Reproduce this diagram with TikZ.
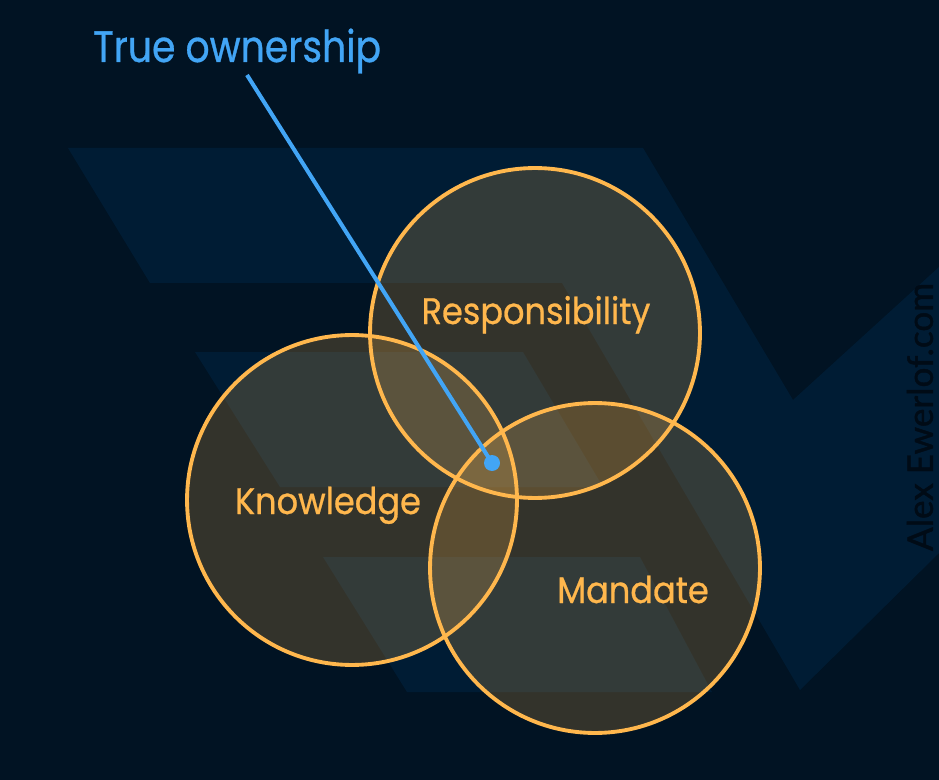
\documentclass[tikz,border=0pt]{standalone}
\usepackage{fontspec}
\setmainfont{Poppins}[FakeStretch=0.91, FakeBold=0.7]
\newfontfamily\titlefont{Poppins}[FakeStretch=0.86, FakeBold=0.7]
\newfontfamily\markfont{Lato}[FakeBold=1.2]
\definecolor{bgnavy}{RGB}{1,19,35}
\definecolor{logonavy}{RGB}{0,28,52}
\definecolor{ringorange}{RGB}{255,183,77}
\definecolor{ownblue}{RGB}{66,165,245}
\definecolor{markgray}{RGB}{0,11,22}
\begin{document}
\begin{tikzpicture}[x=0.02cm, y=-0.02cm]
\tikzstyle{ring}=[circle, minimum size=6.6cm, inner sep=0, draw=ringorange, line width=2.2pt, fill=ringorange, fill opacity=.2]
\tikzstyle{tag}=[text=ringorange, anchor=base, inner sep=0, font=\fontsize{21}{25}\selectfont]
\tikzstyle{band}=[fill=logonavy, draw=none]
\useasboundingbox[fill=bgnavy](0,0) rectangle (939,780);
% faint logo behind
\fill[band](68,148)--(643,148)--(793,400)--(939,267)--(939,553)--(800,690)--(562,283)--(150,283)--cycle;
\fill[band](195,352)--(523,352)--(603,487)--(280,487)--cycle;
\fill[band](323,557)--(640,557)--(712,692)--(407,692)--cycle;
\node[rotate=90, text=markgray, inner sep=0, font=\markfont\fontsize{20}{24}\selectfont] (mark) at (920,417) {Alex Ewerlof.com};
% circles
\node[ring] (resp) at (535,333) {};
\node[ring] (know) at (352,500) {};
\node[ring] (mand) at (595,568) {};
\node[tag] (resptag) at (536,324) {Responsibility};
\node[tag] (knowtag) at (328,514) {Knowledge};
\node[tag] (mandtag) at (633,603) {Mandate};
% pointer
\node[text=ownblue, anchor=base west, inner sep=0, font=\titlefont\fontsize{25}{30}\selectfont] (own) at (93,62) {True ownership};
\node[circle, fill=ownblue, minimum size=16*0.02cm, inner sep=0] (dot) at (492,463) {};
\coordinate (lead) at (247,75);
\draw[ownblue, line width=2.3pt](lead)--(dot.center);
\end{tikzpicture}
\end{document}
